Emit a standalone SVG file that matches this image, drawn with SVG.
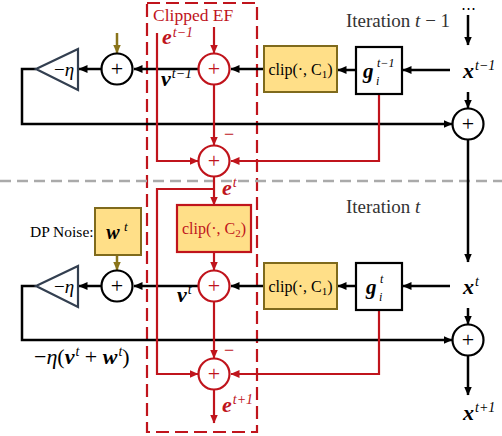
<svg xmlns="http://www.w3.org/2000/svg" width="502" height="436" viewBox="0 0 502 436">
<defs>
<marker id="ak" markerWidth="9" markerHeight="8" refX="8.5" refY="4" orient="auto" markerUnits="userSpaceOnUse"><path d="M0,0 L9,4 L0,8 Z" fill="#000"/></marker>
<marker id="ar" markerWidth="9" markerHeight="8" refX="8.5" refY="4" orient="auto" markerUnits="userSpaceOnUse"><path d="M0,0 L9,4 L0,8 Z" fill="#C0141C"/></marker>
<marker id="ao" markerWidth="9" markerHeight="8" refX="8.5" refY="4" orient="auto" markerUnits="userSpaceOnUse"><path d="M0,0 L9,4 L0,8 Z" fill="#8A741A"/></marker>
</defs>
<style>
.k{fill:none;stroke:#000;stroke-width:2.5}
.r{fill:none;stroke:#C0141C;stroke-width:2.2}
.o{fill:none;stroke:#8A741A;stroke-width:2.5}
.ck{fill:#fff;stroke:#000;stroke-width:2.2}
.cr{fill:#fff;stroke:#C0141C;stroke-width:2.2}
.yb{fill:#FFDF88;stroke:#7F6A1C;stroke-width:2}
.yr{fill:#FFDF88;stroke:#C0141C;stroke-width:2.2}
.gb{fill:#fff;stroke:#000;stroke-width:2.2}
.tri{fill:#fff;stroke:#333F50;stroke-width:2.2}
.s{font-family:"Liberation Serif","DejaVu Serif",serif}
.m{font-family:"Liberation Serif","DejaVu Serif",serif;font-style:italic;font-weight:bold}
.sup{font-weight:normal}
.plus{font-family:"Liberation Serif",serif;font-size:22px;text-anchor:middle}
</style>
<rect x="147" y="3" width="110" height="429" fill="none" stroke="#C0141C" stroke-width="2.2" stroke-dasharray="13,6"/>
<line x1="0" y1="181" x2="502" y2="181" stroke="#AAAAAA" stroke-width="2.5" stroke-dasharray="11,6"/>
<text x="153" y="21" class="s" font-size="17.5" fill="#C0141C">Clipped EF</text>
<text x="346" y="27" class="s" font-size="19" fill="#333">Iteration <tspan font-style="italic">t</tspan> − 1</text>
<text x="346" y="213" class="s" font-size="19" fill="#333">Iteration <tspan font-style="italic">t</tspan></text>
<text x="468" y="13" class="s" font-size="15" text-anchor="middle">⋯</text>

<g id="connectors">
<line x1="468" y1="15" x2="468" y2="45" class="k" marker-end="url(#ak)"/>
<line x1="450" y1="70" x2="403" y2="70" class="k" marker-end="url(#ak)"/>
<line x1="356" y1="70" x2="338" y2="70" class="k" marker-end="url(#ak)"/>
<line x1="264" y1="69" x2="231" y2="69" class="k" marker-end="url(#ak)"/>
<line x1="199" y1="69" x2="134" y2="69" class="k" marker-end="url(#ak)"/>
<line x1="102" y1="69" x2="79" y2="69" class="k" marker-end="url(#ak)"/>
<polyline points="36,69 22,69 22,124 452,124" class="k" marker-end="url(#ak)"/>
<line x1="468" y1="92" x2="468" y2="108" class="k" marker-end="url(#ak)"/>
<line x1="468" y1="140" x2="468" y2="262" class="k" marker-end="url(#ak)"/>
<line x1="450" y1="286" x2="403" y2="286" class="k" marker-end="url(#ak)"/>
<line x1="356" y1="286" x2="338" y2="286" class="k" marker-end="url(#ak)"/>
<line x1="264" y1="286" x2="231" y2="286" class="k" marker-end="url(#ak)"/>
<line x1="199" y1="286" x2="134" y2="286" class="k" marker-end="url(#ak)"/>
<line x1="102" y1="286" x2="79" y2="286" class="k" marker-end="url(#ak)"/>
<polyline points="36,286 22,286 22,340 452,340" class="k" marker-end="url(#ak)"/>
<line x1="468" y1="308" x2="468" y2="324" class="k" marker-end="url(#ak)"/>
<line x1="468" y1="356" x2="468" y2="395" class="k" marker-end="url(#ak)"/>
<line x1="117" y1="33" x2="117" y2="53" class="o" marker-end="url(#ao)"/>
<line x1="117" y1="255" x2="117" y2="270" class="o" marker-end="url(#ao)"/>
<line x1="214" y1="27" x2="214" y2="53" class="r" marker-end="url(#ar)"/>
<polyline points="157,33 157,161 198,161" class="r" marker-end="url(#ar)"/>
<line x1="214" y1="85" x2="214" y2="145" class="r" marker-end="url(#ar)"/>
<polyline points="379,94 379,161 231,161" class="r" marker-end="url(#ar)"/>
<line x1="214" y1="177" x2="214" y2="205" class="r" marker-end="url(#ar)"/>
<polyline points="214,189 157,189 157,374 198,374" class="r" marker-end="url(#ar)"/>
<line x1="214" y1="252" x2="214" y2="270" class="r" marker-end="url(#ar)"/>
<line x1="214" y1="302" x2="214" y2="358" class="r" marker-end="url(#ar)"/>
<polyline points="379,310 379,374 231,374" class="r" marker-end="url(#ar)"/>
<line x1="214" y1="390" x2="214" y2="423" class="r" marker-end="url(#ar)"/>
</g>

<g id="amp1"><polygon points="36,69 78,49 78,90" class="tri"/><text x="54" y="76" class="s" font-size="19">−<tspan font-style="italic">η</tspan></text></g>
<g id="amp2"><polygon points="36,286 78,266 78,307" class="tri"/><text x="54" y="293" class="s" font-size="19">−<tspan font-style="italic">η</tspan></text></g>

<g id="sumv1"><circle cx="117" cy="69" r="15.5" class="ck"/><text x="117" y="76" class="plus">+</text></g>
<g id="sumv2"><circle cx="117" cy="286" r="15.5" class="ck"/><text x="117" y="293" class="plus">+</text></g>
<g id="sumx1"><circle cx="468" cy="124" r="15.5" class="ck"/><text x="468" y="131" class="plus">+</text></g>
<g id="sumx2"><circle cx="468" cy="340" r="15.5" class="ck"/><text x="468" y="347" class="plus">+</text></g>
<g id="sume1"><circle cx="214" cy="69" r="15.5" class="cr"/><text x="214" y="76" class="plus" fill="#C0141C">+</text></g>
<g id="sume2"><circle cx="214" cy="161" r="15.5" class="cr"/><text x="214" y="168" class="plus" fill="#C0141C">+</text></g>
<g id="sume3"><circle cx="214" cy="286" r="15.5" class="cr"/><text x="214" y="293" class="plus" fill="#C0141C">+</text></g>
<g id="sume4"><circle cx="214" cy="374" r="15.5" class="cr"/><text x="214" y="381" class="plus" fill="#C0141C">+</text></g>

<g id="clip1a"><rect x="264" y="46" width="73" height="46" class="yb"/><text x="300.5" y="75" class="s" font-size="16" text-anchor="middle">clip(·, C<tspan font-size="11" dy="3">1</tspan><tspan dy="-3">)</tspan></text></g>
<g id="clip1b"><rect x="264" y="263" width="73" height="46" class="yb"/><text x="300.5" y="292" class="s" font-size="16" text-anchor="middle">clip(·, C<tspan font-size="11" dy="3">1</tspan><tspan dy="-3">)</tspan></text></g>
<g id="clip2"><rect x="177" y="205" width="74" height="47" class="yr"/><text x="214" y="234" class="s" font-size="16" text-anchor="middle" fill="#C0141C">clip(·, C<tspan font-size="11" dy="3">2</tspan><tspan dy="-3">)</tspan></text></g>
<g id="noise"><rect x="95" y="208" width="46" height="47" class="yb"/><text x="113" y="239" class="m" font-size="20" text-anchor="middle">w</text><text x="124" y="231" class="m sup" font-size="13">t</text></g>
<text x="30" y="237" class="s" font-size="15.5">DP Noise:</text>

<g id="grad1"><rect x="356" y="47" width="46" height="47" class="gb"/><text x="363" y="78" class="m" font-size="21">g</text><text x="377" y="67" class="m sup" font-size="12">t−1</text><text x="376" y="85" class="m sup" font-size="12">i</text></g>
<g id="grad2"><rect x="356" y="263" width="46" height="47" class="gb"/><text x="366" y="294" class="m" font-size="21">g</text><text x="380" y="283" class="m sup" font-size="12">t</text><text x="379" y="301" class="m sup" font-size="12">i</text></g>

<text x="463" y="78" class="m" font-size="22">x<tspan class="sup" font-size="14" dx="1" dy="-8">t−1</tspan></text>
<text x="463" y="294" class="m" font-size="22">x<tspan class="sup" font-size="14" dx="1" dy="-8">t</tspan></text>
<text x="463" y="420" class="m" font-size="22">x<tspan class="sup" font-size="14" dx="1" dy="-8">t+1</tspan></text>

<text x="162" y="44" class="m" font-size="22" fill="#C0141C">e<tspan class="sup" font-size="14" dx="1" dy="-7">t−1</tspan></text>
<text x="222" y="195" class="m" font-size="22" fill="#C0141C">e<tspan class="sup" font-size="14" dx="1" dy="-8">t</tspan></text>
<text x="222" y="412" class="m" font-size="22" fill="#C0141C">e<tspan class="sup" font-size="14" dx="1" dy="-8">t+1</tspan></text>
<text x="161" y="86" class="m" font-size="22">v<tspan class="sup" font-size="14" dx="1" dy="-8">t−1</tspan></text>
<text x="177" y="302" class="m" font-size="22">v<tspan class="sup" font-size="14" dx="1" dy="-8">t</tspan></text>
<text x="224" y="140" class="s" font-size="18" fill="#C0141C">−</text>
<text x="224" y="356" class="s" font-size="18" fill="#C0141C">−</text>
<text x="34" y="364" class="s" font-size="22">−<tspan font-style="italic">η</tspan>(<tspan class="m">v</tspan><tspan font-size="14" font-style="italic" dx="1" dy="-8">t</tspan><tspan dy="8"> + </tspan><tspan class="m">w</tspan><tspan font-size="14" font-style="italic" dx="1" dy="-8">t</tspan><tspan dy="8">)</tspan></text>
</svg>
